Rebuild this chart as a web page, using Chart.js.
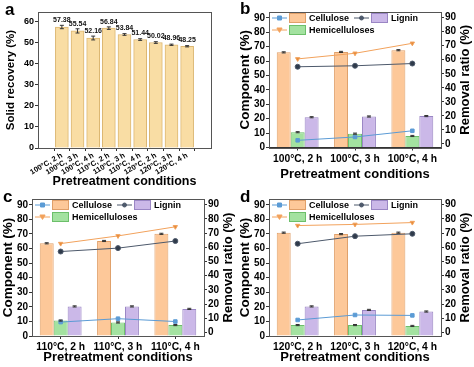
<!DOCTYPE html>
<html>
<head>
<meta charset="utf-8">
<script src="https://cdn.jsdelivr.net/npm/chart.js@4/dist/chart.umd.min.js"></script>
<style>
  body { margin: 0; background: #fff; width: 474px; height: 367px; overflow: hidden; position: relative; }
  canvas { position: absolute; }
</style>
</head>
<body>
<canvas id="chart-a" width="237" height="192" style="left:0;top:0"></canvas>
<canvas id="chart-b" width="237" height="184" style="left:237px;top:0"></canvas>
<canvas id="chart-c" width="237" height="183" style="left:0;top:184px"></canvas>
<canvas id="chart-d" width="237" height="183" style="left:237px;top:184px"></canvas>
<script>
// panel a - solid recovery
const recoveryConditions = ['100°C, 2 h', '100°C, 3 h', '100°C, 4 h', '110°C, 2 h', '110°C, 3 h', '110°C, 4 h', '120°C, 2 h', '120°C, 3 h', '120°C, 4 h'];
const solidRecovery = [57.38, 55.54, 52.16, 56.84, 53.84, 51.44, 50.02, 48.96, 48.25];
const solidRecoveryError = [0.8, 1.0, 0.9, 0.6, 0.4, 0.4, 0.4, 0.3, 0.3];

// panel b - 100 °C
const conditions100 = ['100°C, 2 h', '100°C, 3 h', '100°C, 4 h'];
const cellulose100 = [66.0, 66.3, 67.5];
const hemicellulose100 = [10.6, 9.6, 8.0];
const lignin100 = [21.0, 21.5, 21.8];
const celluloseRemoval100 = [2.6, 5.0, 9.4];
const hemicelluloseRemoval100 = [60.6, 64.6, 71.7];
const ligninRemoval100 = [55.0, 55.7, 57.3];

// panel c - 110 °C
const conditions110 = ['110°C, 2 h', '110°C, 3 h', '110°C, 4 h'];
const cellulose110 = [63.6, 65.2, 70.1];
const hemicellulose110 = [10.6, 9.3, 7.5];
const lignin110 = [20.3, 20.3, 18.6];
const celluloseRemoval110 = [7.3, 9.7, 7.7];
const hemicelluloseRemoval110 = [62.6, 68.0, 74.4];
const ligninRemoval110 = [57.0, 59.4, 64.4];

// panel d - 120 °C
const conditions120 = ['120°C, 2 h', '120°C, 3 h', '120°C, 4 h'];
const cellulose120 = [70.9, 69.9, 70.9];
const hemicellulose120 = [7.5, 7.5, 6.9];
const lignin120 = [20.3, 17.9, 16.8];
const celluloseRemoval120 = [8.8, 12.3, 12.0];
const hemicelluloseRemoval120 = [75.3, 76.1, 77.4];
const ligninRemoval120 = [62.5, 67.8, 69.5];

const componentError = [0.4, 0.4, 0.4];

const FONT = '"Liberation Sans", Arial, sans-serif';
const AXIS = '#333';

const blue = '#5b9bd5', dark = '#4d596b', orange = '#f2a25c';

// box around plot, panel letter, right axis title
const frame = {
  id: 'frame',
  afterDraw(chart, args, opts) {
    const ctx = chart.ctx;
    const a = chart.chartArea;
    ctx.save();
    ctx.strokeStyle = '#555';
    ctx.lineWidth = 1;
    ctx.strokeRect(Math.round(a.left) + 0.5, Math.round(a.top) + 0.5, Math.round(a.right - a.left), Math.round(a.bottom - a.top));
    ctx.fillStyle = '#000';
    ctx.font = 'bold 17px ' + FONT;
    ctx.textBaseline = 'alphabetic';
    ctx.textAlign = 'left';
    ctx.fillText(opts.letter, opts.letterX, opts.letterY);
    if (opts.rightTitle) {
      ctx.translate(chart.width - 9, (a.top + a.bottom) / 2);
      ctx.rotate(-Math.PI / 2);
      ctx.textAlign = 'center';
      ctx.textBaseline = 'middle';
      ctx.font = 'bold 13px ' + FONT;
      ctx.fillText(opts.rightTitle, 0, 0);
    }
    ctx.restore();
  }
};

const errorBars = {
  id: 'errorBars',
  afterDatasetsDraw(chart) {
    const ctx = chart.ctx;
    ctx.save();
    ctx.strokeStyle = '#333';
    ctx.lineWidth = 1;
    chart.data.datasets.forEach((ds, i) => {
      if (!ds.errors) return;
      const meta = chart.getDatasetMeta(i);
      const scale = chart.scales[meta.yAxisID];
      meta.data.forEach((bar, j) => {
        const v = meta.controller.getParsed(j).y;
        const hi = scale.getPixelForValue(v + ds.errors[j]);
        const lo = scale.getPixelForValue(v - ds.errors[j]);
        ctx.beginPath();
        ctx.moveTo(bar.x, hi); ctx.lineTo(bar.x, lo);
        ctx.moveTo(bar.x - 2, hi); ctx.lineTo(bar.x + 2, hi);
        ctx.moveTo(bar.x - 2, lo); ctx.lineTo(bar.x + 2, lo);
        ctx.stroke();
      });
    });
    ctx.restore();
  }
};

const valueLabels = {
  id: 'valueLabels',
  afterDatasetsDraw(chart) {
    const ctx = chart.ctx;
    const meta = chart.getDatasetMeta(0);
    ctx.save();
    ctx.fillStyle = '#111';
    ctx.font = 'bold 7px ' + FONT;
    ctx.textAlign = 'center';
    ctx.textBaseline = 'bottom';
    meta.data.forEach((bar, j) => {
      ctx.fillText(solidRecovery[j].toFixed(2), bar.x, bar.y - 3);
    });
    ctx.restore();
  }
};

function drawMarker(ctx, style, x, y, fill, stroke) {
  ctx.fillStyle = fill;
  ctx.strokeStyle = stroke;
  ctx.beginPath();
  if (style === 'rect') {
    ctx.rect(x - 2, y - 2, 4, 4);
  } else if (style === 'circle') {
    ctx.arc(x, y, 2, 0, Math.PI * 2);
  } else {
    ctx.moveTo(x - 2.6, y - 2); ctx.lineTo(x + 2.6, y - 2); ctx.lineTo(x, y + 2.4); ctx.closePath();
  }
  ctx.fill();
  ctx.stroke();
}

// Origin style legend: line symbol + bar box + label
const comboLegend = {
  id: 'comboLegend',
  afterDraw(chart) {
    const ctx = chart.ctx;
    const a = chart.chartArea;
    const items = [
      { line: blue, marker: 'rect', mfill: blue, box: '#fdc899', boxLine: '#e0a06a', text: 'Cellulose', x: 0, row: 0 },
      { line: dark, marker: 'circle', mfill: dark, box: '#cbb8e8', boxLine: '#9a86c4', text: 'Lignin', x: 82, row: 0 },
      { line: orange, marker: 'tri', mfill: orange, box: '#a3e2a0', boxLine: '#6cbf6a', text: 'Hemicelluloses', x: 0, row: 1 }
    ];
    ctx.save();
    ctx.lineWidth = 1;
    items.forEach(it => {
      const x0 = a.left + 3 + it.x;
      const y = a.top + 6 + it.row * 12;
      ctx.strokeStyle = it.line;
      ctx.beginPath();
      ctx.moveTo(x0, y); ctx.lineTo(x0 + 15, y);
      ctx.stroke();
      drawMarker(ctx, it.marker, x0 + 7.5, y, it.mfill, it.line);
      ctx.fillStyle = it.box;
      ctx.strokeStyle = it.boxLine;
      ctx.fillRect(x0 + 17, y - 5, 17, 10);
      ctx.strokeRect(x0 + 17.5, y - 4.5, 16, 9);
      ctx.fillStyle = '#000';
      ctx.font = 'bold 9px ' + FONT;
      ctx.textAlign = 'left';
      ctx.textBaseline = 'middle';
      ctx.fillText(it.text, x0 + 37, y + 0.5);
    });
    ctx.restore();
  }
};

const tickFont = { family: FONT, size: 10, weight: 'bold' };

new Chart(document.getElementById('chart-a'), {
  type: 'bar',
  data: {
    datasets: [{
      data: solidRecovery.map((v, i) => ({ x: i, y: v })),
      errors: solidRecoveryError,
      backgroundColor: '#f9dda4',
      borderColor: '#dcb772',
      borderWidth: 1,
      barThickness: 13
    }]
  },
  options: {
    responsive: false,
    animation: false,
    events: [],
    layout: { padding: { top: 12, right: 26, left: 0, bottom: 0 } },
    plugins: {
      legend: { display: false },
      tooltip: { enabled: false },
      frame: { letter: 'a', letterX: 5, letterY: 15 }
    },
    scales: {
      x: {
        type: 'linear',
        min: -0.91,
        max: 8.91,
        afterFit(s) { s.height = 44; },
        border: { color: AXIS },
        grid: { drawOnChartArea: false, tickLength: 3, color: AXIS },
        ticks: {
          stepSize: 1,
          includeBounds: false,
          autoSkip: false,
          maxRotation: 30,
          minRotation: 30,
          padding: 0,
          color: '#000',
          font: { family: FONT, size: 7.5, weight: 'bold' },
          callback: v => recoveryConditions[v] || ''
        },
        title: { display: true, text: 'Pretreatment conditions', color: '#000', font: { family: FONT, size: 12.5, weight: 'bold' }, padding: { top: 0, bottom: 3 } }
      },
      y: {
        min: 0,
        max: 64.5,
        afterFit(s) { s.width = 38; },
        border: { color: AXIS },
        grid: { drawOnChartArea: false, tickLength: 3, color: AXIS },
        ticks: { stepSize: 10, includeBounds: false, padding: 1, color: '#000', font: { family: FONT, size: 9, weight: 'bold' } },
        title: { display: true, text: 'Solid recovery (%)', color: '#000', font: { family: FONT, size: 11.5, weight: 'bold' }, padding: { top: 4, bottom: 0 } }
      }
    }
  },
  plugins: [frame, errorBars, valueLabels]
});

function compositionChart(id, letter, letterY, labels, cellulose, hemi, lignin, celRemoval, hemiRemoval, ligRemoval, top, xHeight) {
  const lineSet = (label, data, color, style, rotation, fill) => ({
    type: 'line', label, data, yAxisID: 'y2', order: 0,
    borderColor: color, borderWidth: 1, backgroundColor: fill,
    pointStyle: style, pointRotation: rotation, pointRadius: 2.5, pointBorderColor: color, pointBackgroundColor: fill
  });
  const barSet = (label, data, fill, line) => ({
    label, data, yAxisID: 'y', order: 1, errors: componentError,
    backgroundColor: fill, borderColor: line, borderWidth: 1,
    categoryPercentage: 0.73, barPercentage: 1
  });
  new Chart(document.getElementById(id), {
    type: 'bar',
    data: {
      labels,
      datasets: [
        lineSet('Cellulose removal', celRemoval, blue, 'rect', 0, blue),
        lineSet('Lignin removal', ligRemoval, dark, 'circle', 0, '#2f3a4a'),
        lineSet('Hemicelluloses removal', hemiRemoval, orange, 'triangle', 180, '#e58b3a'),
        barSet('Cellulose', cellulose, '#fdc899', '#e0a06a'),
        barSet('Hemicelluloses', hemi, '#a3e2a0', '#6cbf6a'),
        barSet('Lignin', lignin, '#cbb8e8', '#9a86c4')
      ]
    },
    options: {
      responsive: false,
      animation: false,
      events: [],
      layout: { padding: { top, right: 0, left: 0, bottom: 0 } },
      plugins: {
        legend: { display: false },
        tooltip: { enabled: false },
        frame: { letter, letterX: 3, letterY, rightTitle: 'Removal ratio (%)' }
      },
      scales: {
        x: {
          afterFit(s) { s.height = xHeight; },
          border: { color: AXIS },
          grid: { offset: false, drawOnChartArea: false, tickLength: 3, color: AXIS },
          ticks: { maxRotation: 0, padding: 2, color: '#000', font: { family: FONT, size: 10.3, weight: 'bold' } },
          title: { display: true, text: 'Pretreatment conditions', color: '#000', font: { family: FONT, size: 13, weight: 'bold' }, padding: { top: 0, bottom: 2 } }
        },
        y: {
          min: 0,
          max: 94,
          afterFit(s) { s.width = 32; },
          border: { color: AXIS },
          grid: { drawOnChartArea: false, tickLength: 3, color: AXIS },
          ticks: { stepSize: 10, includeBounds: false, padding: 1, color: '#000', font: tickFont },
          title: { display: true, text: 'Component (%)', color: '#000', font: { family: FONT, size: 13.5, weight: 'bold' }, padding: { top: 0, bottom: 0 } }
        },
        y2: {
          position: 'right',
          min: -2.5,
          max: 94,
          afterFit(s) { s.width = 33; },
          border: { color: AXIS },
          grid: { drawOnChartArea: false, tickLength: 3, color: AXIS },
          ticks: { stepSize: 10, includeBounds: false, padding: 1, color: '#000', font: tickFont }
        }
      }
    },
    plugins: [frame, errorBars, comboLegend]
  });
}

compositionChart('chart-b', 'b', 14, conditions100, cellulose100, hemicellulose100, lignin100, celluloseRemoval100, hemicelluloseRemoval100, ligninRemoval100, 12, 36.5);
compositionChart('chart-c', 'c', 18, conditions110, cellulose110, hemicellulose110, lignin110, celluloseRemoval110, hemicelluloseRemoval110, ligninRemoval110, 15, 31);
compositionChart('chart-d', 'd', 18, conditions120, cellulose120, hemicellulose120, lignin120, celluloseRemoval120, hemicelluloseRemoval120, ligninRemoval120, 15, 31);
</script>
</body>
</html>
